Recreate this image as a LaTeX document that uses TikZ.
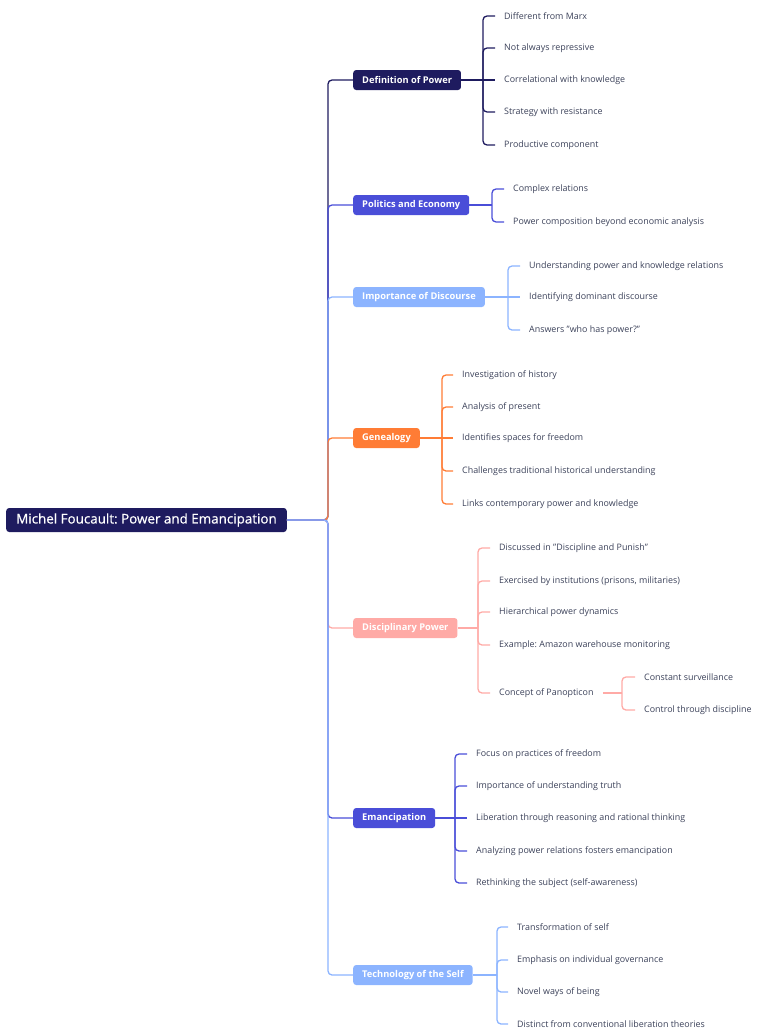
\documentclass[tikz,border=0pt]{standalone}
\usepackage{fontspec}
\setmainfont{Open Sans}
\definecolor{deepnavy}{RGB}{30,27,95}
\definecolor{royalblue}{RGB}{74,78,216}
\definecolor{skyblue}{RGB}{140,180,255}
\definecolor{tangerine}{RGB}{255,124,53}
\definecolor{salmonpink}{RGB}{255,170,166}
\definecolor{leafgray}{RGB}{60,66,90}
\usetikzlibrary{positioning}
\frenchspacing

\tikzset{
  rootbox/.style={fill=deepnavy, text=white, rounded corners=3pt, anchor=west,
    minimum height=24pt, inner xsep=10pt,
    font=\fontsize{13.4}{15}\selectfont\addfontfeature{FakeBold=0.6}},
  branchbox/.style={fill=#1, text=white, rounded corners=3pt, anchor=west,
    minimum height=20pt, inner xsep=9pt, font=\fontsize{9.3}{11}\selectfont\bfseries},
  leafbox/.style={text=leafgray, anchor=west, inner xsep=9pt, inner ysep=1pt,
    font=\fontsize{8.9}{11}\selectfont},
  link/.style={draw=#1, line width=1.3pt, rounded corners=4pt},
}

\begin{document}
\begin{tikzpicture}[x=1pt,y=-1pt]
    \useasboundingbox (0,0) rectangle (768,1034);

    % root and hub
    \node[rootbox] (foucault) at (6,520) {Michel Foucault: Power and Emancipation};
    \coordinate (hub) at (328,520);

    % main branches
    \node[branchbox=deepnavy] (definition) at (353,80) {Definition of Power};
    \node[branchbox=royalblue] (politics) at (353,205) {Politics and Economy};
    \node[branchbox=skyblue] (discourse) at (353,297) {Importance of Discourse};
    \node[branchbox=tangerine] (genealogy) at (353,438) {Genealogy};
    \node[branchbox=salmonpink] (disciplinary) at (353,628) {Disciplinary Power};
    \node[branchbox=royalblue] (emancipation) at (353,818) {Emancipation};
    \node[branchbox=skyblue] (technology) at (353,975) {Technology of the Self};

    % trunk
    \draw[link=deepnavy] (foucault.east) -- (hub) |- (definition.west);
    \draw[link=royalblue] (foucault.east) -- (hub) |- (politics.west);
    \draw[link=skyblue] (foucault.east) -- (hub) |- (discourse.west);
    \draw[link=tangerine] (foucault.east) -- (hub) |- (genealogy.west);
    \draw[link=salmonpink] (foucault.east) -- (hub) |- (disciplinary.west);
    \draw[link=royalblue] (foucault.east) -- (hub) |- (emancipation.west);
    \draw[link=skyblue] (foucault.east) -- (hub) |- (technology.west);

    % definition of power
    \coordinate (defjoin) at (483,80);
    \node[leafbox] (def1) at (495,16) {Different from Marx};
    \node[leafbox] (def2) at (495,48) {Not always repressive};
    \node[leafbox] (def3) at (495,80) {Correlational with knowledge};
    \node[leafbox] (def4) at (495,112) {Strategy with resistance};
    \node[leafbox] (def5) at (495,145) {Productive component};
    \draw[link=deepnavy] (definition.east) -- (def3.west);
    \draw[link=deepnavy] (defjoin) |- (def1.west);
    \draw[link=deepnavy] (defjoin) |- (def2.west);
    \draw[link=deepnavy] (defjoin) |- (def4.west);
    \draw[link=deepnavy] (defjoin) |- (def5.west);

    % politics and economy
    \coordinate (poljoin) at (492,205);
    \node[leafbox] (pol1) at (504,189) {Complex relations};
    \node[leafbox] (pol2) at (504,222) {Power composition beyond economic analysis};
    \draw[link=royalblue] (politics.east) -- (poljoin);
    \draw[link=royalblue] (poljoin) |- (pol1.west);
    \draw[link=royalblue] (poljoin) |- (pol2.west);

    % importance of discourse
    \coordinate (disjoin) at (508,297);
    \node[leafbox] (dis1) at (520,266) {Understanding power and knowledge relations};
    \node[leafbox] (dis2) at (520,297) {Identifying dominant discourse};
    \node[leafbox] (dis3) at (520,330) {Answers "who has power?"};
    \draw[link=skyblue] (discourse.east) -- (dis2.west);
    \draw[link=skyblue] (disjoin) |- (dis1.west);
    \draw[link=skyblue] (disjoin) |- (dis3.west);

    % genealogy
    \coordinate (genjoin) at (442,438);
    \node[leafbox] (gen1) at (453,375) {Investigation of history};
    \node[leafbox] (gen2) at (453,407) {Analysis of present};
    \node[leafbox] (gen3) at (453,438) {Identifies spaces for freedom};
    \node[leafbox] (gen4) at (453,471) {Challenges traditional historical understanding};
    \node[leafbox] (gen5) at (453,504) {Links contemporary power and knowledge};
    \draw[link=tangerine] (genealogy.east) -- (gen3.west);
    \draw[link=tangerine] (genjoin) |- (gen1.west);
    \draw[link=tangerine] (genjoin) |- (gen2.west);
    \draw[link=tangerine] (genjoin) |- (gen4.west);
    \draw[link=tangerine] (genjoin) |- (gen5.west);

    % disciplinary power
    \coordinate (dscjoin) at (478,628);
    \node[leafbox] (dsc1) at (490,548) {Discussed in "Discipline and Punish"};
    \node[leafbox] (dsc2) at (490,581) {Exercised by institutions (prisons, militaries)};
    \node[leafbox] (dsc3) at (490,612) {Hierarchical power dynamics};
    \node[leafbox] (dsc4) at (490,645) {Example: Amazon warehouse monitoring};
    \node[leafbox] (dsc5) at (490,693) {Concept of Panopticon};
    \draw[link=salmonpink] (disciplinary.east) -- (dscjoin);
    \draw[link=salmonpink] (dscjoin) |- (dsc1.west);
    \draw[link=salmonpink] (dscjoin) |- (dsc2.west);
    \draw[link=salmonpink] (dscjoin) |- (dsc3.west);
    \draw[link=salmonpink] (dscjoin) |- (dsc4.west);
    \draw[link=salmonpink] (dscjoin) |- (dsc5.west);

    % panopticon
    \coordinate (panjoin) at (622,693);
    \node[leafbox] (pan1) at (635,677) {Constant surveillance};
    \node[leafbox] (pan2) at (635,710) {Control through discipline};
    \draw[link=salmonpink] (dsc5.east) -- (panjoin);
    \draw[link=salmonpink] (panjoin) |- (pan1.west);
    \draw[link=salmonpink] (panjoin) |- (pan2.west);

    % emancipation
    \coordinate (emajoin) at (455,818);
    \node[leafbox] (ema1) at (467,754) {Focus on practices of freedom};
    \node[leafbox] (ema2) at (467,786) {Importance of understanding truth};
    \node[leafbox] (ema3) at (467,818) {Liberation through reasoning and rational thinking};
    \node[leafbox] (ema4) at (467,851) {Analyzing power relations fosters emancipation};
    \node[leafbox] (ema5) at (467,883) {Rethinking the subject (self-awareness)};
    \draw[link=royalblue] (emancipation.east) -- (ema3.west);
    \draw[link=royalblue] (emajoin) |- (ema1.west);
    \draw[link=royalblue] (emajoin) |- (ema2.west);
    \draw[link=royalblue] (emajoin) |- (ema4.west);
    \draw[link=royalblue] (emajoin) |- (ema5.west);

    % technology of the self
    \coordinate (tecjoin) at (497,975);
    \node[leafbox] (tec1) at (508,927) {Transformation of self};
    \node[leafbox] (tec2) at (508,960) {Emphasis on individual governance};
    \node[leafbox] (tec3) at (508,992) {Novel ways of being};
    \node[leafbox] (tec4) at (508,1024) {Distinct from conventional liberation theories};
    \draw[link=skyblue] (technology.east) -- (tecjoin);
    \draw[link=skyblue] (tecjoin) |- (tec1.west);
    \draw[link=skyblue] (tecjoin) |- (tec2.west);
    \draw[link=skyblue] (tecjoin) |- (tec3.west);
    \draw[link=skyblue] (tecjoin) |- (tec4.west);
\end{tikzpicture}
\end{document}
